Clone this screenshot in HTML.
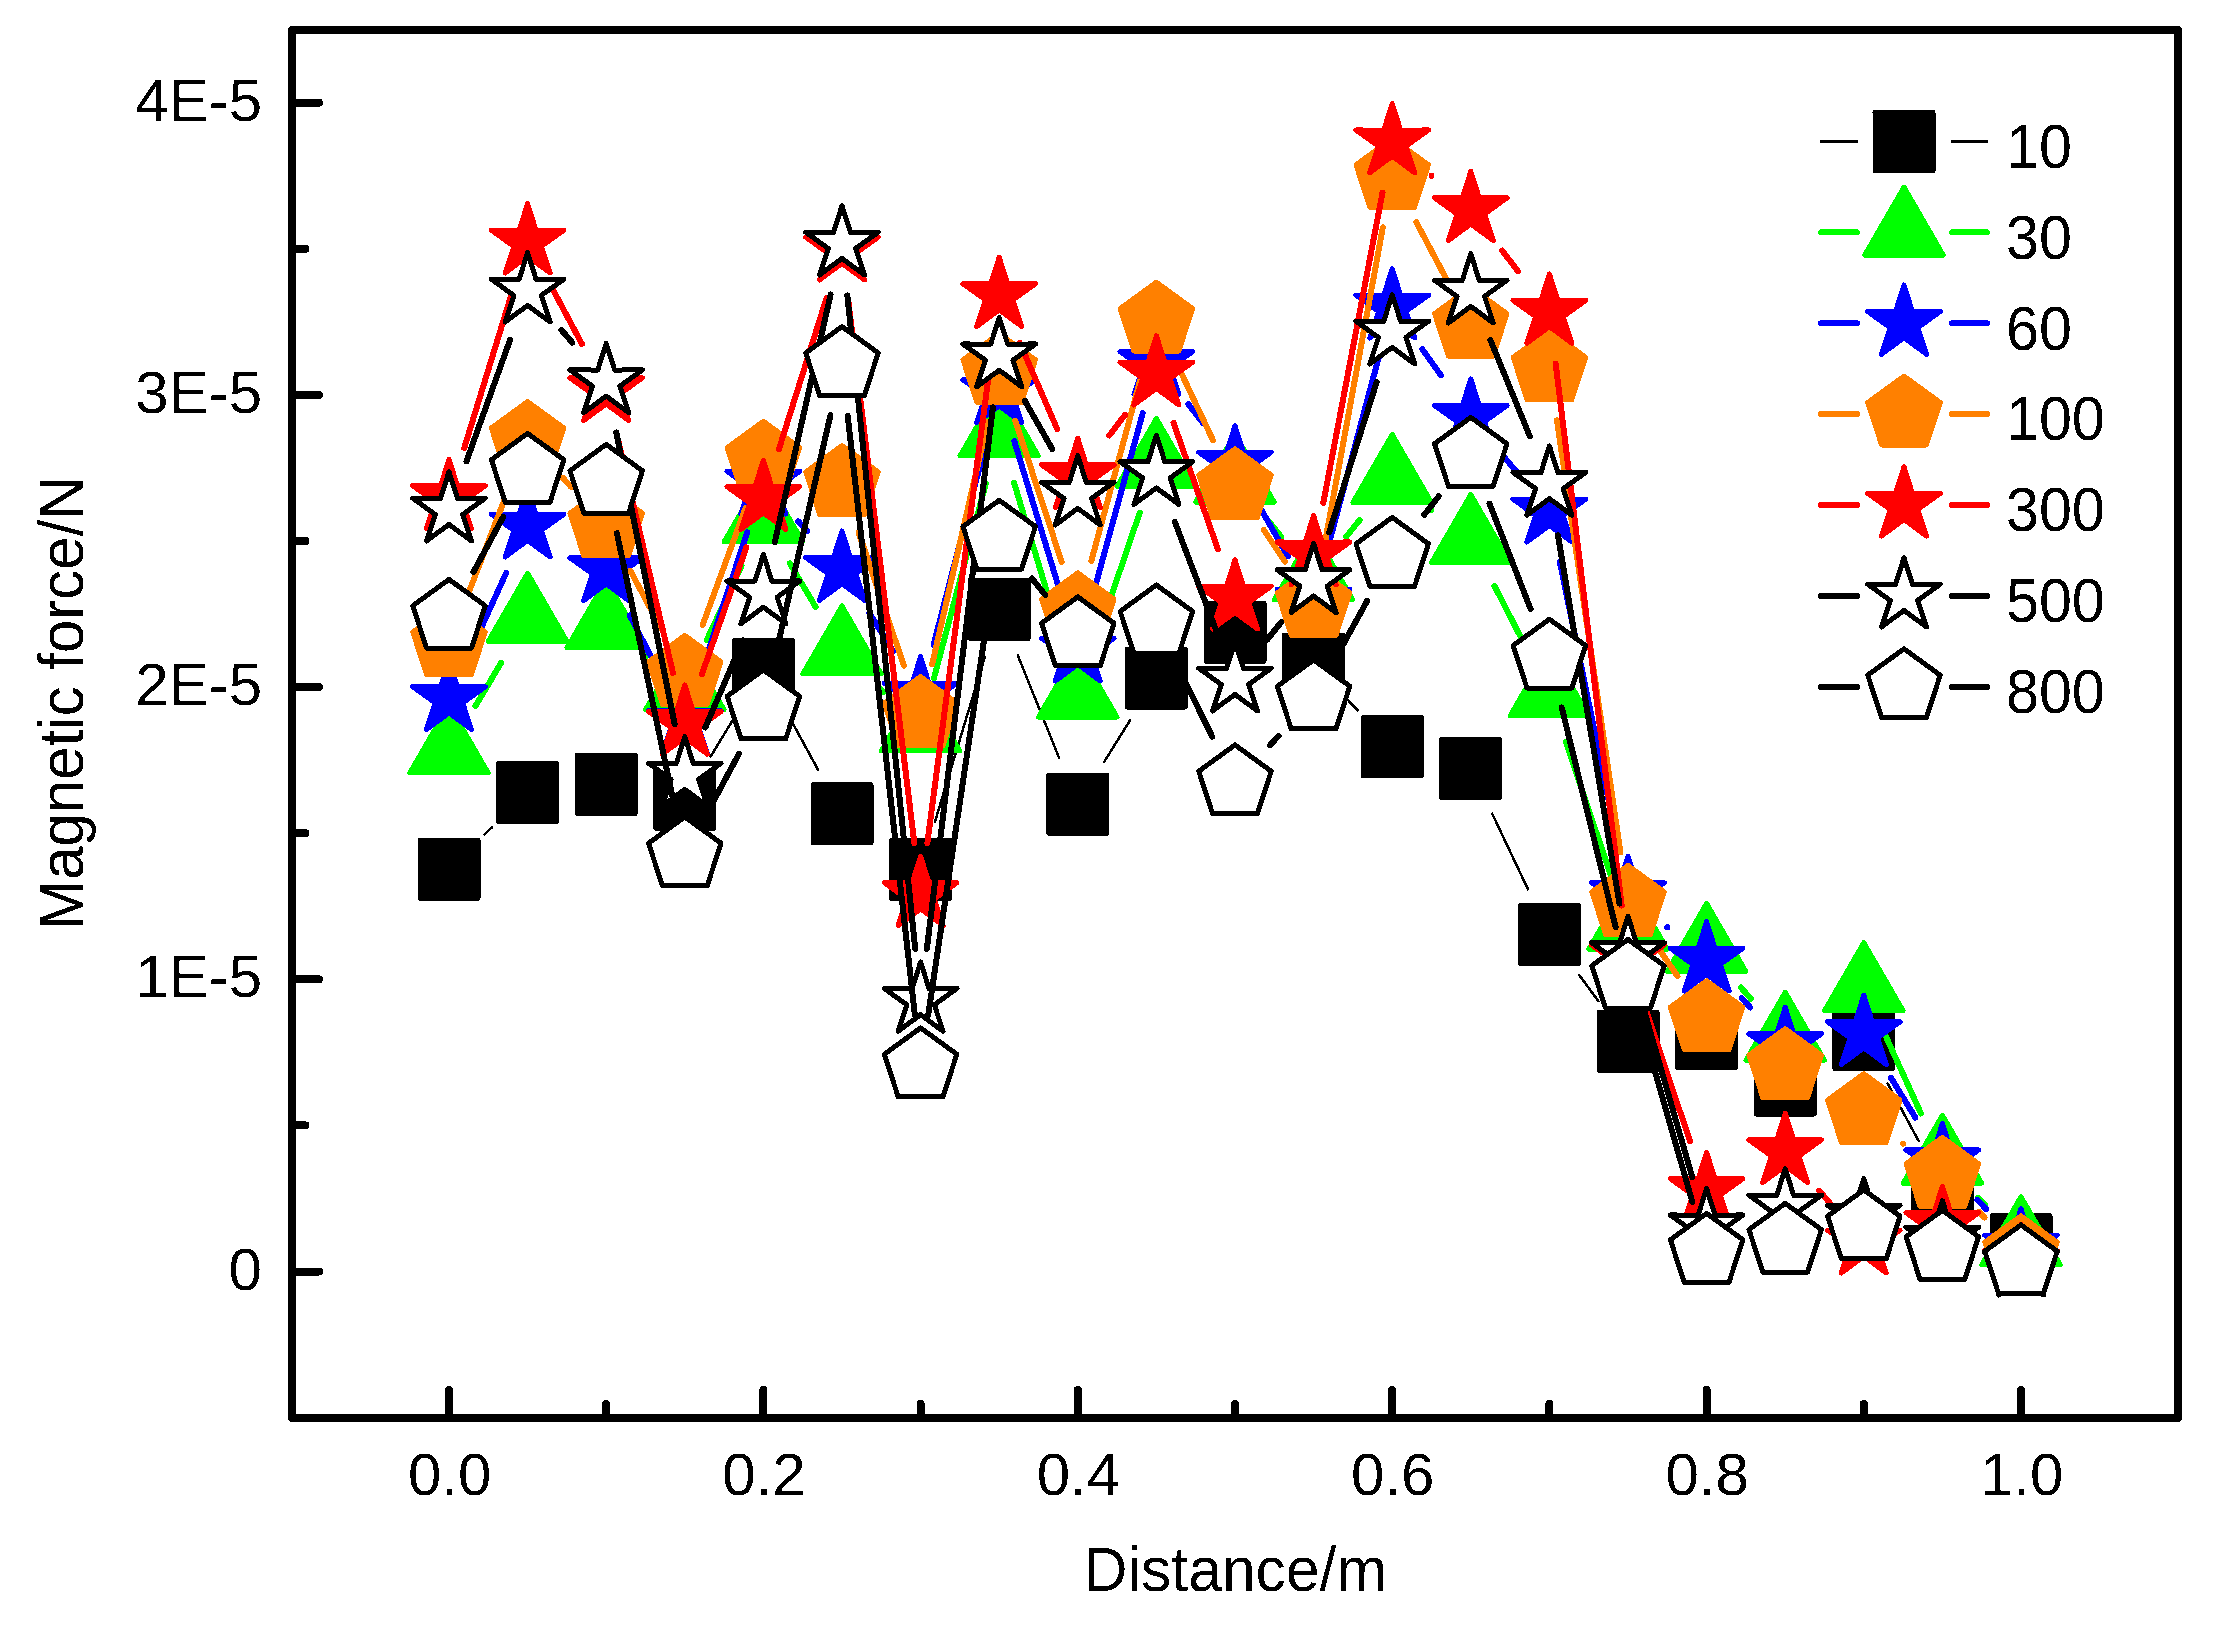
<!DOCTYPE html>
<html><head><meta charset="utf-8"><title>Magnetic force vs distance</title>
<style>html,body{margin:0;padding:0;background:#fff;overflow:hidden;}svg{display:block;}</style>
</head><body>
<svg width="2222" height="1632" viewBox="0 0 2222 1632" shape-rendering="crispEdges">
<defs><filter id="bin" x="-5%" y="-5%" width="110%" height="110%"><feComponentTransfer><feFuncA type="discrete" tableValues="0 1"/></feComponentTransfer></filter></defs>
<rect x="0" y="0" width="2222" height="1632" fill="#ffffff"/>
<g stroke="#000000" color="#000000" stroke-width="2.5" stroke-linecap="round" fill="none">
<line x1="484.68" y1="834.45" x2="491.92" y2="827.35"/>
<line x1="710.69" y1="756.48" x2="737.51" y2="712.22"/>
<line x1="787.31" y1="713.36" x2="818.09" y2="769.84"/>
<line x1="935.05" y1="821.49" x2="984.75" y2="657.11"/>
<line x1="1017.88" y1="655.62" x2="1059.12" y2="757.88"/>
<line x1="1104.21" y1="761.8" x2="1129.99" y2="720.4"/>
<line x1="1348.03" y1="700.19" x2="1357.77" y2="710.41"/>
<line x1="1492.18" y1="813.65" x2="1528.02" y2="889.35"/>
<line x1="1578.99" y1="974.74" x2="1598.41" y2="1001.16"/>
<line x1="1887.52" y1="1083.26" x2="1918.68" y2="1141.04"/>
<circle cx="1981.7" cy="1214.85" r="1.25" stroke="none" fill="currentColor"/>
</g>
<g stroke-width="5" stroke-linejoin="round">
<rect x="420" y="840.4" width="58" height="58" fill="#000000" stroke="#000000"/>
<rect x="498.6" y="763.4" width="58" height="58" fill="#000000" stroke="#000000"/>
<rect x="577.2" y="755.3" width="58" height="58" fill="#000000" stroke="#000000"/>
<rect x="655.8" y="770.2" width="58" height="58" fill="#000000" stroke="#000000"/>
<rect x="734.4" y="640.5" width="58" height="58" fill="#000000" stroke="#000000"/>
<rect x="813" y="784.7" width="58" height="58" fill="#000000" stroke="#000000"/>
<rect x="891.6" y="840.3" width="58" height="58" fill="#000000" stroke="#000000"/>
<rect x="970.2" y="580.3" width="58" height="58" fill="#000000" stroke="#000000"/>
<rect x="1048.8" y="775.2" width="58" height="58" fill="#000000" stroke="#000000"/>
<rect x="1127.4" y="649" width="58" height="58" fill="#000000" stroke="#000000"/>
<rect x="1206" y="603.4" width="58" height="58" fill="#000000" stroke="#000000"/>
<rect x="1284.6" y="635" width="58" height="58" fill="#000000" stroke="#000000"/>
<rect x="1363.2" y="717.6" width="58" height="58" fill="#000000" stroke="#000000"/>
<rect x="1441.8" y="739.5" width="58" height="58" fill="#000000" stroke="#000000"/>
<rect x="1520.4" y="905.5" width="58" height="58" fill="#000000" stroke="#000000"/>
<rect x="1599" y="1012.4" width="58" height="58" fill="#000000" stroke="#000000"/>
<rect x="1677.6" y="1009.2" width="58" height="58" fill="#000000" stroke="#000000"/>
<rect x="1756.2" y="1056" width="58" height="58" fill="#000000" stroke="#000000"/>
<rect x="1834.8" y="1010.3" width="58" height="58" fill="#000000" stroke="#000000"/>
<rect x="1913.4" y="1156" width="58" height="58" fill="#000000" stroke="#000000"/>
<rect x="1992" y="1215.7" width="58" height="58" fill="#000000" stroke="#000000"/>
</g>
<g stroke="#00ff00" color="#00ff00" stroke-width="6" stroke-linecap="round" fill="none">
<line x1="475.48" y1="705.9" x2="501.12" y2="662.9"/>
<circle cx="645.5" cy="656.15" r="3" stroke="none" fill="currentColor"/>
<line x1="706.71" y1="640.17" x2="741.49" y2="565.83"/>
<line x1="789.81" y1="563.45" x2="815.59" y2="606.85"/>
<line x1="878.95" y1="687.46" x2="883.65" y2="692.04"/>
<line x1="933.91" y1="678.24" x2="985.89" y2="483.26"/>
<line x1="1014.1" y1="482.81" x2="1062.9" y2="644.89"/>
<line x1="1094.48" y1="645.46" x2="1139.72" y2="512.74"/>
<line x1="1267.43" y1="519.67" x2="1281.17" y2="536.73"/>
<line x1="1346.11" y1="536.8" x2="1359.69" y2="520"/>
<circle cx="1431.5" cy="509.8" r="3" stroke="none" fill="currentColor"/>
<line x1="1494.4" y1="585.8" x2="1525.8" y2="647"/>
<line x1="1565.89" y1="742" x2="1611.51" y2="877.5"/>
<line x1="1740.84" y1="987.43" x2="1750.96" y2="998.87"/>
<line x1="1885.24" y1="1035.05" x2="1920.96" y2="1113.45"/>
<line x1="1978.29" y1="1197.71" x2="1985.11" y2="1204.79"/>
</g>
<g stroke-width="5" stroke-linejoin="round">
<polygon points="449,704.98 488.25,772.96 409.75,772.96" fill="#00ff00" stroke="#00ff00"/>
<polygon points="527.6,573.18 566.85,641.16 488.35,641.16" fill="#00ff00" stroke="#00ff00"/>
<polygon points="606.2,579.98 645.45,647.96 566.95,647.96" fill="#00ff00" stroke="#00ff00"/>
<polygon points="684.8,641.68 724.05,709.66 645.55,709.66" fill="#00ff00" stroke="#00ff00"/>
<polygon points="763.4,473.68 802.65,541.66 724.15,541.66" fill="#00ff00" stroke="#00ff00"/>
<polygon points="842,605.98 881.25,673.96 802.75,673.96" fill="#00ff00" stroke="#00ff00"/>
<polygon points="920.6,682.88 959.85,750.86 881.35,750.86" fill="#00ff00" stroke="#00ff00"/>
<polygon points="999.2,387.98 1038.45,455.96 959.95,455.96" fill="#00ff00" stroke="#00ff00"/>
<polygon points="1077.8,649.08 1117.05,717.06 1038.55,717.06" fill="#00ff00" stroke="#00ff00"/>
<polygon points="1156.4,418.48 1195.65,486.46 1117.15,486.46" fill="#00ff00" stroke="#00ff00"/>
<polygon points="1235,434.08 1274.25,502.06 1195.75,502.06" fill="#00ff00" stroke="#00ff00"/>
<polygon points="1313.6,531.68 1352.85,599.66 1274.35,599.66" fill="#00ff00" stroke="#00ff00"/>
<polygon points="1392.2,434.48 1431.45,502.46 1352.95,502.46" fill="#00ff00" stroke="#00ff00"/>
<polygon points="1470.8,494.48 1510.05,562.46 1431.55,562.46" fill="#00ff00" stroke="#00ff00"/>
<polygon points="1549.4,647.68 1588.65,715.66 1510.15,715.66" fill="#00ff00" stroke="#00ff00"/>
<polygon points="1628,881.18 1667.25,949.16 1588.75,949.16" fill="#00ff00" stroke="#00ff00"/>
<polygon points="1706.6,903.38 1745.85,971.36 1667.35,971.36" fill="#00ff00" stroke="#00ff00"/>
<polygon points="1785.2,992.28 1824.45,1060.26 1745.95,1060.26" fill="#00ff00" stroke="#00ff00"/>
<polygon points="1863.8,942.68 1903.05,1010.66 1824.55,1010.66" fill="#00ff00" stroke="#00ff00"/>
<polygon points="1942.4,1115.18 1981.65,1183.16 1903.15,1183.16" fill="#00ff00" stroke="#00ff00"/>
<polygon points="2021,1196.68 2060.25,1264.66 1981.75,1264.66" fill="#00ff00" stroke="#00ff00"/>
</g>
<g stroke="#0000ff" color="#0000ff" stroke-width="6" stroke-linecap="round" fill="none">
<line x1="470.44" y1="651.45" x2="506.16" y2="573.05"/>
<line x1="629.82" y1="615.49" x2="661.18" y2="676.51"/>
<line x1="700.93" y1="673.38" x2="747.27" y2="532.22"/>
<line x1="798.23" y1="521.3" x2="807.17" y2="531.1"/>
<line x1="869.41" y1="613.14" x2="893.19" y2="651.16"/>
<line x1="933.56" y1="644.95" x2="986.24" y2="441.55"/>
<line x1="1014.24" y1="440.96" x2="1062.76" y2="600.54"/>
<line x1="1091.47" y1="600.14" x2="1142.73" y2="413.26"/>
<line x1="1188.23" y1="404.14" x2="1203.17" y2="423.26"/>
<line x1="1260.73" y1="508.84" x2="1287.87" y2="556.16"/>
<line x1="1326.95" y1="551.05" x2="1378.85" y2="356.95"/>
<line x1="1422.22" y1="349.09" x2="1440.78" y2="375.11"/>
<line x1="1504.01" y1="456.83" x2="1516.19" y2="471.37"/>
<line x1="1559.78" y1="561.65" x2="1617.62" y2="843.95"/>
<circle cx="1667.3" cy="927.3" r="3" stroke="none" fill="currentColor"/>
<line x1="1741.59" y1="998.06" x2="1750.21" y2="1007.44"/>
<line x1="1890.82" y1="1077.58" x2="1915.38" y2="1117.62"/>
<line x1="1977.43" y1="1199.72" x2="1985.97" y2="1208.98"/>
</g>
<g stroke-width="5" stroke-linejoin="round">
<polygon points="449,660.2 457.46,686.85 485.43,686.66 462.7,702.95 471.51,729.49 449,712.9 426.49,729.49 435.3,702.95 412.57,686.66 440.54,686.85" fill="#0000ff" stroke="#0000ff"/>
<polygon points="527.6,487.7 536.06,514.35 564.03,514.16 541.3,530.45 550.11,556.99 527.6,540.4 505.09,556.99 513.9,530.45 491.17,514.16 519.14,514.35" fill="#0000ff" stroke="#0000ff"/>
<polygon points="606.2,531.2 614.66,557.85 642.63,557.66 619.9,573.95 628.71,600.49 606.2,583.9 583.69,600.49 592.5,573.95 569.77,557.66 597.74,557.85" fill="#0000ff" stroke="#0000ff"/>
<polygon points="684.8,684.2 693.26,710.85 721.23,710.66 698.5,726.95 707.31,753.49 684.8,736.9 662.29,753.49 671.1,726.95 648.37,710.66 676.34,710.85" fill="#0000ff" stroke="#0000ff"/>
<polygon points="763.4,444.8 771.86,471.45 799.83,471.26 777.1,487.55 785.91,514.09 763.4,497.5 740.89,514.09 749.7,487.55 726.97,471.26 754.94,471.45" fill="#0000ff" stroke="#0000ff"/>
<polygon points="842,531 850.46,557.65 878.43,557.46 855.7,573.75 864.51,600.29 842,583.7 819.49,600.29 828.3,573.75 805.57,557.46 833.54,557.65" fill="#0000ff" stroke="#0000ff"/>
<polygon points="920.6,656.7 929.06,683.35 957.03,683.16 934.3,699.45 943.11,725.99 920.6,709.4 898.09,725.99 906.9,699.45 884.17,683.16 912.14,683.35" fill="#0000ff" stroke="#0000ff"/>
<polygon points="999.2,353.2 1007.66,379.85 1035.63,379.66 1012.9,395.95 1021.71,422.49 999.2,405.9 976.69,422.49 985.5,395.95 962.77,379.66 990.74,379.85" fill="#0000ff" stroke="#0000ff"/>
<polygon points="1077.8,611.7 1086.26,638.35 1114.23,638.16 1091.5,654.45 1100.31,680.99 1077.8,664.4 1055.29,680.99 1064.1,654.45 1041.37,638.16 1069.34,638.35" fill="#0000ff" stroke="#0000ff"/>
<polygon points="1156.4,325.1 1164.86,351.75 1192.83,351.56 1170.1,367.85 1178.91,394.39 1156.4,377.8 1133.89,394.39 1142.7,367.85 1119.97,351.56 1147.94,351.75" fill="#0000ff" stroke="#0000ff"/>
<polygon points="1235,425.7 1243.46,452.35 1271.43,452.16 1248.7,468.45 1257.51,494.99 1235,478.4 1212.49,494.99 1221.3,468.45 1198.57,452.16 1226.54,452.35" fill="#0000ff" stroke="#0000ff"/>
<polygon points="1313.6,562.7 1322.06,589.35 1350.03,589.16 1327.3,605.45 1336.11,631.99 1313.6,615.4 1291.09,631.99 1299.9,605.45 1277.17,589.16 1305.14,589.35" fill="#0000ff" stroke="#0000ff"/>
<polygon points="1392.2,268.7 1400.66,295.35 1428.63,295.16 1405.9,311.45 1414.71,337.99 1392.2,321.4 1369.69,337.99 1378.5,311.45 1355.77,295.16 1383.74,295.35" fill="#0000ff" stroke="#0000ff"/>
<polygon points="1470.8,378.9 1479.26,405.55 1507.23,405.36 1484.5,421.65 1493.31,448.19 1470.8,431.6 1448.29,448.19 1457.1,421.65 1434.37,405.36 1462.34,405.55" fill="#0000ff" stroke="#0000ff"/>
<polygon points="1549.4,472.7 1557.86,499.35 1585.83,499.16 1563.1,515.45 1571.91,541.99 1549.4,525.4 1526.89,541.99 1535.7,515.45 1512.97,499.16 1540.94,499.35" fill="#0000ff" stroke="#0000ff"/>
<polygon points="1628,856.3 1636.46,882.95 1664.43,882.76 1641.7,899.05 1650.51,925.59 1628,909 1605.49,925.59 1614.3,899.05 1591.57,882.76 1619.54,882.95" fill="#0000ff" stroke="#0000ff"/>
<polygon points="1706.6,921.7 1715.06,948.35 1743.03,948.16 1720.3,964.45 1729.11,990.99 1706.6,974.4 1684.09,990.99 1692.9,964.45 1670.17,948.16 1698.14,948.35" fill="#0000ff" stroke="#0000ff"/>
<polygon points="1785.2,1007.2 1793.66,1033.85 1821.63,1033.66 1798.9,1049.95 1807.71,1076.49 1785.2,1059.9 1762.69,1076.49 1771.5,1049.95 1748.77,1033.66 1776.74,1033.85" fill="#0000ff" stroke="#0000ff"/>
<polygon points="1863.8,995.2 1872.26,1021.85 1900.23,1021.66 1877.5,1037.95 1886.31,1064.49 1863.8,1047.9 1841.29,1064.49 1850.1,1037.95 1827.37,1021.66 1855.34,1021.85" fill="#0000ff" stroke="#0000ff"/>
<polygon points="1942.4,1123.4 1950.86,1150.05 1978.83,1149.86 1956.1,1166.15 1964.91,1192.69 1942.4,1176.1 1919.89,1192.69 1928.7,1166.15 1905.97,1149.86 1933.94,1150.05" fill="#0000ff" stroke="#0000ff"/>
<polygon points="2021,1208.7 2029.46,1235.35 2057.43,1235.16 2034.7,1251.45 2043.51,1277.99 2021,1261.4 1998.49,1277.99 2007.3,1251.45 1984.57,1235.16 2012.54,1235.35" fill="#0000ff" stroke="#0000ff"/>
</g>
<g stroke="#ff8000" color="#ff8000" stroke-width="6" stroke-linecap="round" fill="none">
<line x1="467.58" y1="595.55" x2="509.02" y2="487.95"/>
<line x1="562.63" y1="477.72" x2="571.17" y2="486.98"/>
<line x1="630.39" y1="570.69" x2="660.61" y2="627.81"/>
<line x1="702.62" y1="624.97" x2="745.58" y2="507.93"/>
<line x1="858.65" y1="532.64" x2="903.95" y2="665.76"/>
<line x1="932.14" y1="664.3" x2="987.66" y2="421.9"/>
<line x1="1015.32" y1="420.62" x2="1061.68" y2="561.88"/>
<line x1="1091.29" y1="561.09" x2="1142.91" y2="370.21"/>
<line x1="1178.46" y1="367.06" x2="1212.94" y2="440.14"/>
<line x1="1263.73" y1="529.88" x2="1284.87" y2="561.52"/>
<line x1="1322.94" y1="553.65" x2="1382.86" y2="227.35"/>
<line x1="1416.33" y1="222.22" x2="1446.67" y2="279.68"/>
<line x1="1556.92" y1="420.15" x2="1620.48" y2="852.45"/>
<line x1="1657.12" y1="946.32" x2="1677.48" y2="976.18"/>
<circle cx="1903.1" cy="1143.65" r="3" stroke="none" fill="currentColor"/>
<line x1="1978.98" y1="1212.03" x2="1984.42" y2="1217.47"/>
</g>
<g stroke-width="5" stroke-linejoin="round">
<polygon points="449,605.7 485.24,632.03 471.39,674.62 426.61,674.62 412.76,632.03" fill="#ff8000" stroke="#ff8000"/>
<polygon points="527.6,401.6 563.84,427.93 549.99,470.52 505.21,470.52 491.36,427.93" fill="#ff8000" stroke="#ff8000"/>
<polygon points="606.2,486.9 642.44,513.23 628.59,555.82 583.81,555.82 569.96,513.23" fill="#ff8000" stroke="#ff8000"/>
<polygon points="684.8,635.4 721.04,661.73 707.19,704.32 662.41,704.32 648.56,661.73" fill="#ff8000" stroke="#ff8000"/>
<polygon points="763.4,421.3 799.64,447.63 785.79,490.22 741.01,490.22 727.16,447.63" fill="#ff8000" stroke="#ff8000"/>
<polygon points="842,445.6 878.24,471.93 864.39,514.52 819.61,514.52 805.76,471.93" fill="#ff8000" stroke="#ff8000"/>
<polygon points="920.6,676.6 956.84,702.93 942.99,745.52 898.21,745.52 884.36,702.93" fill="#ff8000" stroke="#ff8000"/>
<polygon points="999.2,333.4 1035.44,359.73 1021.59,402.32 976.81,402.32 962.96,359.73" fill="#ff8000" stroke="#ff8000"/>
<polygon points="1077.8,572.9 1114.04,599.23 1100.19,641.82 1055.41,641.82 1041.56,599.23" fill="#ff8000" stroke="#ff8000"/>
<polygon points="1156.4,282.2 1192.64,308.53 1178.79,351.12 1134.01,351.12 1120.16,308.53" fill="#ff8000" stroke="#ff8000"/>
<polygon points="1235,448.8 1271.24,475.13 1257.39,517.72 1212.61,517.72 1198.76,475.13" fill="#ff8000" stroke="#ff8000"/>
<polygon points="1313.6,566.4 1349.84,592.73 1335.99,635.32 1291.21,635.32 1277.36,592.73" fill="#ff8000" stroke="#ff8000"/>
<polygon points="1392.2,138.4 1428.44,164.73 1414.59,207.32 1369.81,207.32 1355.96,164.73" fill="#ff8000" stroke="#ff8000"/>
<polygon points="1470.8,287.3 1507.04,313.63 1493.19,356.22 1448.41,356.22 1434.56,313.63" fill="#ff8000" stroke="#ff8000"/>
<polygon points="1549.4,330.9 1585.64,357.23 1571.79,399.82 1527.01,399.82 1513.16,357.23" fill="#ff8000" stroke="#ff8000"/>
<polygon points="1628,865.5 1664.24,891.83 1650.39,934.42 1605.61,934.42 1591.76,891.83" fill="#ff8000" stroke="#ff8000"/>
<polygon points="1706.6,980.8 1742.84,1007.13 1728.99,1049.72 1684.21,1049.72 1670.36,1007.13" fill="#ff8000" stroke="#ff8000"/>
<polygon points="1785.2,1028.7 1821.44,1055.03 1807.59,1097.62 1762.81,1097.62 1748.96,1055.03" fill="#ff8000" stroke="#ff8000"/>
<polygon points="1863.8,1073.7 1900.04,1100.03 1886.19,1142.62 1841.41,1142.62 1827.56,1100.03" fill="#ff8000" stroke="#ff8000"/>
<polygon points="1942.4,1137.4 1978.64,1163.73 1964.79,1206.32 1920.01,1206.32 1906.16,1163.73" fill="#ff8000" stroke="#ff8000"/>
<polygon points="2021,1215.9 2057.24,1242.23 2043.39,1284.82 1998.61,1284.82 1984.76,1242.23" fill="#ff8000" stroke="#ff8000"/>
</g>
<g stroke="#ff0000" color="#ff0000" stroke-width="6" stroke-linecap="round" fill="none">
<line x1="464.2" y1="448.09" x2="512.4" y2="291.41"/>
<line x1="551.9" y1="287.63" x2="581.9" y2="343.97"/>
<line x1="618.06" y1="439.92" x2="672.94" y2="672.88"/>
<line x1="701.87" y1="674.4" x2="746.33" y2="547.3"/>
<line x1="778.93" y1="449.19" x2="826.47" y2="298.31"/>
<line x1="848.25" y1="300.32" x2="914.35" y2="843.18"/>
<line x1="927.33" y1="843.24" x2="992.47" y2="346.76"/>
<line x1="1019.79" y1="342.92" x2="1057.21" y2="429.08"/>
<line x1="1109.26" y1="435.47" x2="1124.94" y2="415.03"/>
<line x1="1173.52" y1="422.78" x2="1217.88" y2="549.22"/>
<line x1="1323.29" y1="503.02" x2="1382.51" y2="192.58"/>
<circle cx="1431.5" cy="175.7" r="3" stroke="none" fill="currentColor"/>
<line x1="1502.24" y1="250.64" x2="1517.96" y2="271.16"/>
<line x1="1555.66" y1="363.52" x2="1621.74" y2="905.68"/>
<line x1="1644.49" y1="1006" x2="1690.11" y2="1141.5"/>
<line x1="1819.12" y1="1190.61" x2="1829.88" y2="1202.99"/>
</g>
<g stroke-width="5" stroke-linejoin="round">
<polygon points="449,459.2 457.46,485.85 485.43,485.66 462.7,501.95 471.51,528.49 449,511.9 426.49,528.49 435.3,501.95 412.57,485.66 440.54,485.85" fill="#ff0000" stroke="#ff0000"/>
<polygon points="527.6,203.7 536.06,230.35 564.03,230.16 541.3,246.45 550.11,272.99 527.6,256.4 505.09,272.99 513.9,246.45 491.17,230.16 519.14,230.35" fill="#ff0000" stroke="#ff0000"/>
<polygon points="606.2,351.3 614.66,377.95 642.63,377.76 619.9,394.05 628.71,420.59 606.2,404 583.69,420.59 592.5,394.05 569.77,377.76 597.74,377.95" fill="#ff0000" stroke="#ff0000"/>
<polygon points="684.8,684.9 693.26,711.55 721.23,711.36 698.5,727.65 707.31,754.19 684.8,737.6 662.29,754.19 671.1,727.65 648.37,711.36 676.34,711.55" fill="#ff0000" stroke="#ff0000"/>
<polygon points="763.4,460.2 771.86,486.85 799.83,486.66 777.1,502.95 785.91,529.49 763.4,512.9 740.89,529.49 749.7,502.95 726.97,486.66 754.94,486.85" fill="#ff0000" stroke="#ff0000"/>
<polygon points="842,210.7 850.46,237.35 878.43,237.16 855.7,253.45 864.51,279.99 842,263.4 819.49,279.99 828.3,253.45 805.57,237.16 833.54,237.35" fill="#ff0000" stroke="#ff0000"/>
<polygon points="920.6,856.2 929.06,882.85 957.03,882.66 934.3,898.95 943.11,925.49 920.6,908.9 898.09,925.49 906.9,898.95 884.17,882.66 912.14,882.85" fill="#ff0000" stroke="#ff0000"/>
<polygon points="999.2,257.2 1007.66,283.85 1035.63,283.66 1012.9,299.95 1021.71,326.49 999.2,309.9 976.69,326.49 985.5,299.95 962.77,283.66 990.74,283.85" fill="#ff0000" stroke="#ff0000"/>
<polygon points="1077.8,438.2 1086.26,464.85 1114.23,464.66 1091.5,480.95 1100.31,507.49 1077.8,490.9 1055.29,507.49 1064.1,480.95 1041.37,464.66 1069.34,464.85" fill="#ff0000" stroke="#ff0000"/>
<polygon points="1156.4,335.7 1164.86,362.35 1192.83,362.16 1170.1,378.45 1178.91,404.99 1156.4,388.4 1133.89,404.99 1142.7,378.45 1119.97,362.16 1147.94,362.35" fill="#ff0000" stroke="#ff0000"/>
<polygon points="1235,559.7 1243.46,586.35 1271.43,586.16 1248.7,602.45 1257.51,628.99 1235,612.4 1212.49,628.99 1221.3,602.45 1198.57,586.16 1226.54,586.35" fill="#ff0000" stroke="#ff0000"/>
<polygon points="1313.6,515.5 1322.06,542.15 1350.03,541.96 1327.3,558.25 1336.11,584.79 1313.6,568.2 1291.09,584.79 1299.9,558.25 1277.17,541.96 1305.14,542.15" fill="#ff0000" stroke="#ff0000"/>
<polygon points="1392.2,103.5 1400.66,130.15 1428.63,129.96 1405.9,146.25 1414.71,172.79 1392.2,156.2 1369.69,172.79 1378.5,146.25 1355.77,129.96 1383.74,130.15" fill="#ff0000" stroke="#ff0000"/>
<polygon points="1470.8,171.3 1479.26,197.95 1507.23,197.76 1484.5,214.05 1493.31,240.59 1470.8,224 1448.29,240.59 1457.1,214.05 1434.37,197.76 1462.34,197.95" fill="#ff0000" stroke="#ff0000"/>
<polygon points="1549.4,273.9 1557.86,300.55 1585.83,300.36 1563.1,316.65 1571.91,343.19 1549.4,326.6 1526.89,343.19 1535.7,316.65 1512.97,300.36 1540.94,300.55" fill="#ff0000" stroke="#ff0000"/>
<polygon points="1628,918.7 1636.46,945.35 1664.43,945.16 1641.7,961.45 1650.51,987.99 1628,971.4 1605.49,987.99 1614.3,961.45 1591.57,945.16 1619.54,945.35" fill="#ff0000" stroke="#ff0000"/>
<polygon points="1706.6,1152.2 1715.06,1178.85 1743.03,1178.66 1720.3,1194.95 1729.11,1221.49 1706.6,1204.9 1684.09,1221.49 1692.9,1194.95 1670.17,1178.66 1698.14,1178.85" fill="#ff0000" stroke="#ff0000"/>
<polygon points="1785.2,1113.3 1793.66,1139.95 1821.63,1139.76 1798.9,1156.05 1807.71,1182.59 1785.2,1166 1762.69,1182.59 1771.5,1156.05 1748.77,1139.76 1776.74,1139.95" fill="#ff0000" stroke="#ff0000"/>
<polygon points="1863.8,1203.7 1872.26,1230.35 1900.23,1230.16 1877.5,1246.45 1886.31,1272.99 1863.8,1256.4 1841.29,1272.99 1850.1,1246.45 1827.37,1230.16 1855.34,1230.35" fill="#ff0000" stroke="#ff0000"/>
<polygon points="1942.4,1186.2 1950.86,1212.85 1978.83,1212.66 1956.1,1228.95 1964.91,1255.49 1942.4,1238.9 1919.89,1255.49 1928.7,1228.95 1905.97,1212.66 1933.94,1212.85" fill="#ff0000" stroke="#ff0000"/>
<polygon points="2021,1224.2 2029.46,1250.85 2057.43,1250.66 2034.7,1266.95 2043.51,1293.49 2021,1276.9 1998.49,1293.49 2007.3,1266.95 1984.57,1250.66 2012.54,1250.85" fill="#ff0000" stroke="#ff0000"/>
</g>
<g stroke="#000000" color="#000000" stroke-width="6" stroke-linecap="round" fill="none">
<line x1="466.46" y1="461.34" x2="510.14" y2="339.66"/>
<line x1="561.46" y1="330.07" x2="572.34" y2="342.63"/>
<line x1="616.33" y1="432.4" x2="674.67" y2="724.3"/>
<line x1="705.28" y1="727.53" x2="742.92" y2="640.27"/>
<line x1="774.77" y1="542.36" x2="830.63" y2="294.44"/>
<line x1="847.34" y1="295.42" x2="915.26" y2="948.88"/>
<line x1="926.86" y1="948.98" x2="992.94" y2="407.12"/>
<line x1="1024.76" y1="400.74" x2="1052.24" y2="449.06"/>
<line x1="1174.79" y1="521.82" x2="1216.61" y2="631.68"/>
<line x1="1267.27" y1="639.61" x2="1281.33" y2="621.99"/>
<line x1="1329.19" y1="532.31" x2="1376.61" y2="382.29"/>
<line x1="1490.37" y1="339.85" x2="1529.83" y2="436.35"/>
<line x1="1557.92" y1="535.19" x2="1619.48" y2="903.61"/>
<line x1="1642.34" y1="1004.27" x2="1692.26" y2="1177.13"/>
</g>
<g stroke-width="5" stroke-linejoin="round">
<polygon points="449,471.7 457.46,498.35 485.43,498.16 462.7,514.45 471.51,540.99 449,524.4 426.49,540.99 435.3,514.45 412.57,498.16 440.54,498.35" fill="#ffffff" stroke="#000000"/>
<polygon points="527.6,252.7 536.06,279.35 564.03,279.16 541.3,295.45 550.11,321.99 527.6,305.4 505.09,321.99 513.9,295.45 491.17,279.16 519.14,279.35" fill="#ffffff" stroke="#000000"/>
<polygon points="606.2,343.4 614.66,370.05 642.63,369.86 619.9,386.15 628.71,412.69 606.2,396.1 583.69,412.69 592.5,386.15 569.77,369.86 597.74,370.05" fill="#ffffff" stroke="#000000"/>
<polygon points="684.8,736.7 693.26,763.35 721.23,763.16 698.5,779.45 707.31,805.99 684.8,789.4 662.29,805.99 671.1,779.45 648.37,763.16 676.34,763.35" fill="#ffffff" stroke="#000000"/>
<polygon points="763.4,554.5 771.86,581.15 799.83,580.96 777.1,597.25 785.91,623.79 763.4,607.2 740.89,623.79 749.7,597.25 726.97,580.96 754.94,581.15" fill="#ffffff" stroke="#000000"/>
<polygon points="842,205.7 850.46,232.35 878.43,232.16 855.7,248.45 864.51,274.99 842,258.4 819.49,274.99 828.3,248.45 805.57,232.16 833.54,232.35" fill="#ffffff" stroke="#000000"/>
<polygon points="920.6,962 929.06,988.65 957.03,988.46 934.3,1004.75 943.11,1031.29 920.6,1014.7 898.09,1031.29 906.9,1004.75 884.17,988.46 912.14,988.65" fill="#ffffff" stroke="#000000"/>
<polygon points="999.2,317.5 1007.66,344.15 1035.63,343.96 1012.9,360.25 1021.71,386.79 999.2,370.2 976.69,386.79 985.5,360.25 962.77,343.96 990.74,344.15" fill="#ffffff" stroke="#000000"/>
<polygon points="1077.8,455.7 1086.26,482.35 1114.23,482.16 1091.5,498.45 1100.31,524.99 1077.8,508.4 1055.29,524.99 1064.1,498.45 1041.37,482.16 1069.34,482.35" fill="#ffffff" stroke="#000000"/>
<polygon points="1156.4,435.2 1164.86,461.85 1192.83,461.66 1170.1,477.95 1178.91,504.49 1156.4,487.9 1133.89,504.49 1142.7,477.95 1119.97,461.66 1147.94,461.85" fill="#ffffff" stroke="#000000"/>
<polygon points="1235,641.7 1243.46,668.35 1271.43,668.16 1248.7,684.45 1257.51,710.99 1235,694.4 1212.49,710.99 1221.3,684.45 1198.57,668.16 1226.54,668.35" fill="#ffffff" stroke="#000000"/>
<polygon points="1313.6,543.3 1322.06,569.95 1350.03,569.76 1327.3,586.05 1336.11,612.59 1313.6,596 1291.09,612.59 1299.9,586.05 1277.17,569.76 1305.14,569.95" fill="#ffffff" stroke="#000000"/>
<polygon points="1392.2,294.7 1400.66,321.35 1428.63,321.16 1405.9,337.45 1414.71,363.99 1392.2,347.4 1369.69,363.99 1378.5,337.45 1355.77,321.16 1383.74,321.35" fill="#ffffff" stroke="#000000"/>
<polygon points="1470.8,253.7 1479.26,280.35 1507.23,280.16 1484.5,296.45 1493.31,322.99 1470.8,306.4 1448.29,322.99 1457.1,296.45 1434.37,280.16 1462.34,280.35" fill="#ffffff" stroke="#000000"/>
<polygon points="1549.4,445.9 1557.86,472.55 1585.83,472.36 1563.1,488.65 1571.91,515.19 1549.4,498.6 1526.89,515.19 1535.7,488.65 1512.97,472.36 1540.94,472.55" fill="#ffffff" stroke="#000000"/>
<polygon points="1628,916.3 1636.46,942.95 1664.43,942.76 1641.7,959.05 1650.51,985.59 1628,969 1605.49,985.59 1614.3,959.05 1591.57,942.76 1619.54,942.95" fill="#ffffff" stroke="#000000"/>
<polygon points="1706.6,1188.5 1715.06,1215.15 1743.03,1214.96 1720.3,1231.25 1729.11,1257.79 1706.6,1241.2 1684.09,1257.79 1692.9,1231.25 1670.17,1214.96 1698.14,1215.15" fill="#ffffff" stroke="#000000"/>
<polygon points="1785.2,1168.7 1793.66,1195.35 1821.63,1195.16 1798.9,1211.45 1807.71,1237.99 1785.2,1221.4 1762.69,1237.99 1771.5,1211.45 1748.77,1195.16 1776.74,1195.35" fill="#ffffff" stroke="#000000"/>
<polygon points="1863.8,1178.7 1872.26,1205.35 1900.23,1205.16 1877.5,1221.45 1886.31,1247.99 1863.8,1231.4 1841.29,1247.99 1850.1,1221.45 1827.37,1205.16 1855.34,1205.35" fill="#ffffff" stroke="#000000"/>
<polygon points="1942.4,1200.7 1950.86,1227.35 1978.83,1227.16 1956.1,1243.45 1964.91,1269.99 1942.4,1253.4 1919.89,1269.99 1928.7,1243.45 1905.97,1227.16 1933.94,1227.35" fill="#ffffff" stroke="#000000"/>
<polygon points="2021,1225.7 2029.46,1252.35 2057.43,1252.16 2034.7,1268.45 2043.51,1294.99 2021,1278.4 1998.49,1294.99 2007.3,1268.45 1984.57,1252.16 2012.54,1252.35" fill="#ffffff" stroke="#000000"/>
</g>
<g stroke="#000000" color="#000000" stroke-width="6" stroke-linecap="round" fill="none">
<line x1="473.51" y1="571.98" x2="503.09" y2="517.02"/>
<line x1="616.87" y1="533.09" x2="674.13" y2="804.41"/>
<line x1="709.18" y1="809.41" x2="739.02" y2="753.59"/>
<line x1="774.94" y1="657.6" x2="830.46" y2="415.1"/>
<line x1="847.76" y1="416.08" x2="914.84" y2="1014.62"/>
<line x1="928.22" y1="1014.86" x2="991.58" y2="589.44"/>
<line x1="1031.81" y1="578.42" x2="1045.19" y2="594.88"/>
<line x1="1179.21" y1="669.5" x2="1212.19" y2="736.6"/>
<line x1="1270.1" y1="745.04" x2="1278.5" y2="735.96"/>
<line x1="1338.57" y1="652.73" x2="1367.23" y2="600.77"/>
<line x1="1424.15" y1="514.85" x2="1438.85" y2="496.15"/>
<line x1="1489.56" y1="503.67" x2="1530.64" y2="609.13"/>
<line x1="1561.72" y1="707.51" x2="1615.68" y2="927.29"/>
<line x1="1642.26" y1="1027.2" x2="1692.34" y2="1201.8"/>
</g>
<g stroke-width="5" stroke-linejoin="round">
<polygon points="449,579.4 485.24,605.73 471.39,648.32 426.61,648.32 412.76,605.73" fill="#ffffff" stroke="#000000"/>
<polygon points="527.6,433.4 563.84,459.73 549.99,502.32 505.21,502.32 491.36,459.73" fill="#ffffff" stroke="#000000"/>
<polygon points="606.2,444.4 642.44,470.73 628.59,513.32 583.81,513.32 569.96,470.73" fill="#ffffff" stroke="#000000"/>
<polygon points="684.8,816.9 721.04,843.23 707.19,885.82 662.41,885.82 648.56,843.23" fill="#ffffff" stroke="#000000"/>
<polygon points="763.4,669.9 799.64,696.23 785.79,738.82 741.01,738.82 727.16,696.23" fill="#ffffff" stroke="#000000"/>
<polygon points="842,326.6 878.24,352.93 864.39,395.52 819.61,395.52 805.76,352.93" fill="#ffffff" stroke="#000000"/>
<polygon points="920.6,1027.9 956.84,1054.23 942.99,1096.82 898.21,1096.82 884.36,1054.23" fill="#ffffff" stroke="#000000"/>
<polygon points="999.2,500.2 1035.44,526.53 1021.59,569.12 976.81,569.12 962.96,526.53" fill="#ffffff" stroke="#000000"/>
<polygon points="1077.8,596.9 1114.04,623.23 1100.19,665.82 1055.41,665.82 1041.56,623.23" fill="#ffffff" stroke="#000000"/>
<polygon points="1156.4,585 1192.64,611.33 1178.79,653.92 1134.01,653.92 1120.16,611.33" fill="#ffffff" stroke="#000000"/>
<polygon points="1235,744.9 1271.24,771.23 1257.39,813.82 1212.61,813.82 1198.76,771.23" fill="#ffffff" stroke="#000000"/>
<polygon points="1313.6,659.9 1349.84,686.23 1335.99,728.82 1291.21,728.82 1277.36,686.23" fill="#ffffff" stroke="#000000"/>
<polygon points="1392.2,517.4 1428.44,543.73 1414.59,586.32 1369.81,586.32 1355.96,543.73" fill="#ffffff" stroke="#000000"/>
<polygon points="1470.8,417.4 1507.04,443.73 1493.19,486.32 1448.41,486.32 1434.56,443.73" fill="#ffffff" stroke="#000000"/>
<polygon points="1549.4,619.2 1585.64,645.53 1571.79,688.12 1527.01,688.12 1513.16,645.53" fill="#ffffff" stroke="#000000"/>
<polygon points="1628,939.4 1664.24,965.73 1650.39,1008.32 1605.61,1008.32 1591.76,965.73" fill="#ffffff" stroke="#000000"/>
<polygon points="1706.6,1213.4 1742.84,1239.73 1728.99,1282.32 1684.21,1282.32 1670.36,1239.73" fill="#ffffff" stroke="#000000"/>
<polygon points="1785.2,1203.3 1821.44,1229.63 1807.59,1272.22 1762.81,1272.22 1748.96,1229.63" fill="#ffffff" stroke="#000000"/>
<polygon points="1863.8,1189.9 1900.04,1216.23 1886.19,1258.82 1841.41,1258.82 1827.56,1216.23" fill="#ffffff" stroke="#000000"/>
<polygon points="1942.4,1210.4 1978.64,1236.73 1964.79,1279.32 1920.01,1279.32 1906.16,1236.73" fill="#ffffff" stroke="#000000"/>
<polygon points="2021,1224.9 2057.24,1251.23 2043.39,1293.82 1998.61,1293.82 1984.76,1251.23" fill="#ffffff" stroke="#000000"/>
</g>
<g stroke="#000" stroke-width="8" fill="none">
<rect x="292" y="30" width="1886" height="1388" stroke-linejoin="round"/>
</g>
<g stroke="#000" stroke-width="8" stroke-linecap="round">
<line x1="296" y1="1271.5" x2="319" y2="1271.5"/>
<line x1="296" y1="979.3" x2="319" y2="979.3"/>
<line x1="296" y1="687.1" x2="319" y2="687.1"/>
<line x1="296" y1="394.9" x2="319" y2="394.9"/>
<line x1="296" y1="102.7" x2="319" y2="102.7"/>
<line x1="296" y1="1125.4" x2="305.5" y2="1125.4"/>
<line x1="296" y1="833.2" x2="305.5" y2="833.2"/>
<line x1="296" y1="541" x2="305.5" y2="541"/>
<line x1="296" y1="248.8" x2="305.5" y2="248.8"/>
<line x1="449" y1="1414" x2="449" y2="1390"/>
<line x1="763.4" y1="1414" x2="763.4" y2="1390"/>
<line x1="1077.8" y1="1414" x2="1077.8" y2="1390"/>
<line x1="1392.2" y1="1414" x2="1392.2" y2="1390"/>
<line x1="1706.6" y1="1414" x2="1706.6" y2="1390"/>
<line x1="2021" y1="1414" x2="2021" y2="1390"/>
<line x1="606.2" y1="1414" x2="606.2" y2="1404"/>
<line x1="920.6" y1="1414" x2="920.6" y2="1404"/>
<line x1="1235" y1="1414" x2="1235" y2="1404"/>
<line x1="1549.4" y1="1414" x2="1549.4" y2="1404"/>
<line x1="1863.8" y1="1414" x2="1863.8" y2="1404"/>
</g>
<g font-family="Liberation Sans, Arial, sans-serif" fill="#000" filter="url(#bin)">
<text x="228.47" y="1289.5" font-size="60">0</text>
<text x="135.28" y="997.3" font-size="60">1E-5</text>
<text x="135.28" y="705.1" font-size="60">2E-5</text>
<text x="135.28" y="412.9" font-size="60">3E-5</text>
<text x="135.28" y="120.7" font-size="60">4E-5</text>
<text x="449.6" y="1495.4" font-size="60" text-anchor="middle">0.0</text>
<text x="764" y="1495.4" font-size="60" text-anchor="middle">0.2</text>
<text x="1078.4" y="1495.4" font-size="60" text-anchor="middle">0.4</text>
<text x="1392.8" y="1495.4" font-size="60" text-anchor="middle">0.6</text>
<text x="1707.2" y="1495.4" font-size="60" text-anchor="middle">0.8</text>
<text x="2021.6" y="1495.4" font-size="60" text-anchor="middle">1.0</text>
<text transform="translate(1083.82 1591) scale(0.97 1)" font-size="62.5">Distance/m</text>
<text transform="translate(83 929.74) rotate(-90) scale(0.96 1)" font-size="62.5">Magnetic force/N</text>
</g>
<g stroke="#000000" stroke-width="2.5" stroke-linecap="round">
<line x1="1821" y1="141.5" x2="1857" y2="141.5"/>
<line x1="1952" y1="141.5" x2="1987" y2="141.5"/>
</g>
<g stroke-width="5" stroke-linejoin="round">
<rect x="1875" y="112.5" width="58" height="58" fill="#000000" stroke="#000000"/>
</g>
<g stroke="#00ff00" stroke-width="6" stroke-linecap="round">
<line x1="1821" y1="232.4" x2="1857" y2="232.4"/>
<line x1="1952" y1="232.4" x2="1987" y2="232.4"/>
</g>
<g stroke-width="5" stroke-linejoin="round">
<polygon points="1904,187.08 1943.25,255.06 1864.75,255.06" fill="#00ff00" stroke="#00ff00"/>
</g>
<g stroke="#0000ff" stroke-width="6" stroke-linecap="round">
<line x1="1821" y1="323.3" x2="1857" y2="323.3"/>
<line x1="1952" y1="323.3" x2="1987" y2="323.3"/>
</g>
<g stroke-width="5" stroke-linejoin="round">
<polygon points="1904,285 1912.46,311.65 1940.43,311.46 1917.7,327.75 1926.51,354.29 1904,337.7 1881.49,354.29 1890.3,327.75 1867.57,311.46 1895.54,311.65" fill="#0000ff" stroke="#0000ff"/>
</g>
<g stroke="#ff8000" stroke-width="6" stroke-linecap="round">
<line x1="1821" y1="414.2" x2="1857" y2="414.2"/>
<line x1="1952" y1="414.2" x2="1987" y2="414.2"/>
</g>
<g stroke-width="5" stroke-linejoin="round">
<polygon points="1904,376.1 1940.24,402.43 1926.39,445.02 1881.61,445.02 1867.76,402.43" fill="#ff8000" stroke="#ff8000"/>
</g>
<g stroke="#ff0000" stroke-width="6" stroke-linecap="round">
<line x1="1821" y1="505.1" x2="1857" y2="505.1"/>
<line x1="1952" y1="505.1" x2="1987" y2="505.1"/>
</g>
<g stroke-width="5" stroke-linejoin="round">
<polygon points="1904,466.8 1912.46,493.45 1940.43,493.26 1917.7,509.55 1926.51,536.09 1904,519.5 1881.49,536.09 1890.3,509.55 1867.57,493.26 1895.54,493.45" fill="#ff0000" stroke="#ff0000"/>
</g>
<g stroke="#000000" stroke-width="6" stroke-linecap="round">
<line x1="1821" y1="596" x2="1857" y2="596"/>
<line x1="1952" y1="596" x2="1987" y2="596"/>
</g>
<g stroke-width="5" stroke-linejoin="round">
<polygon points="1904,557.7 1912.46,584.35 1940.43,584.16 1917.7,600.45 1926.51,626.99 1904,610.4 1881.49,626.99 1890.3,600.45 1867.57,584.16 1895.54,584.35" fill="#ffffff" stroke="#000000"/>
</g>
<g stroke="#000000" stroke-width="6" stroke-linecap="round">
<line x1="1821" y1="686.9" x2="1857" y2="686.9"/>
<line x1="1952" y1="686.9" x2="1987" y2="686.9"/>
</g>
<g stroke-width="5" stroke-linejoin="round">
<polygon points="1904,648.8 1940.24,675.13 1926.39,717.72 1881.61,717.72 1867.76,675.13" fill="#ffffff" stroke="#000000"/>
</g>
<g font-family="Liberation Sans, Arial, sans-serif" fill="#000" filter="url(#bin)">
<text transform="translate(2006 167.7) scale(0.94 1)" font-size="63">10</text>
<text transform="translate(2006 258.6) scale(0.94 1)" font-size="63">30</text>
<text transform="translate(2006 349.5) scale(0.94 1)" font-size="63">60</text>
<text transform="translate(2006 440.4) scale(0.94 1)" font-size="63">100</text>
<text transform="translate(2006 531.3) scale(0.94 1)" font-size="63">300</text>
<text transform="translate(2006 622.2) scale(0.94 1)" font-size="63">500</text>
<text transform="translate(2006 713.1) scale(0.94 1)" font-size="63">800</text>
</g>
</svg>
</body></html>
